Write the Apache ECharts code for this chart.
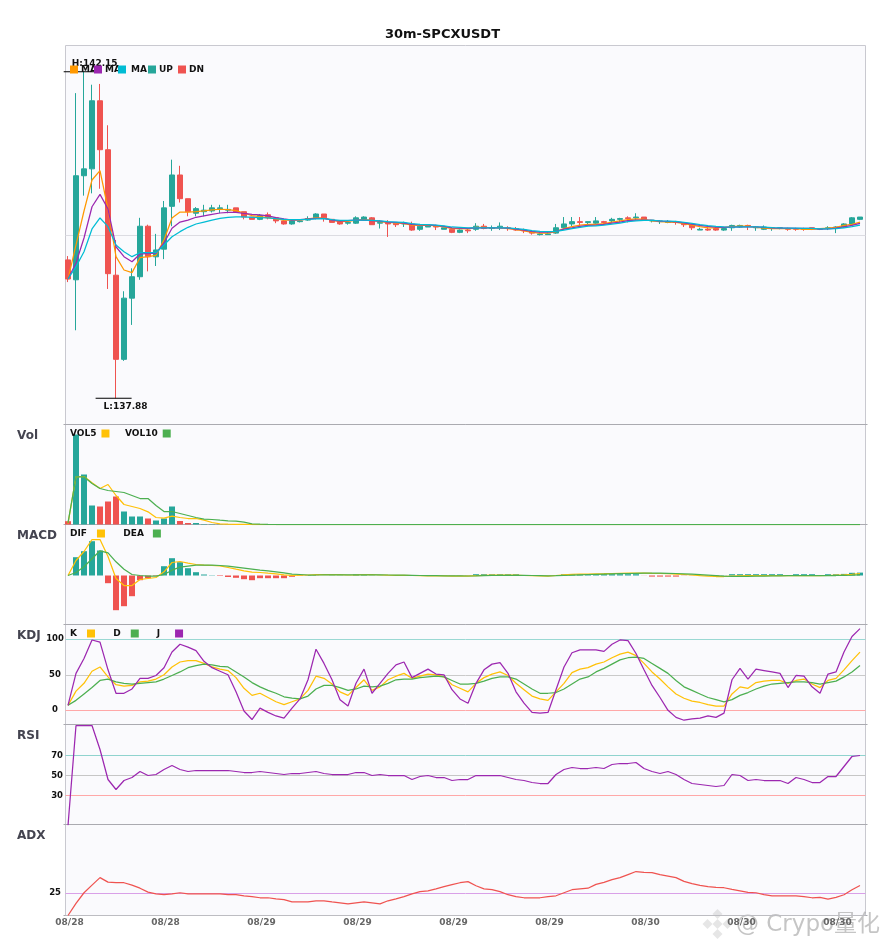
<!DOCTYPE html>
<html><head><meta charset="utf-8">
<style>html,body{margin:0;padding:0;background:#fff}#c{width:885px;height:950px}</style>
<script src="https://cdn.jsdelivr.net/npm/echarts@6/dist/echarts.min.js"></script>
</head><body><div id="c"></div>
<script>
const categories = [].concat(Array(24).fill('08/28'), Array(48).fill('08/29'), Array(28).fill('08/30'));
const opens = [
139.69,139.43,140.79,140.88,141.77,141.13,139.49,138.39,139.19,139.47,
140.13,139.73,139.83,140.39,140.80,140.49,140.30,140.32,140.33,140.36,
140.34,140.37,140.32,140.25,140.22,140.28,140.24,140.20,140.16,140.19,
140.21,140.24,140.29,140.22,140.20,140.17,140.17,140.21,140.24,140.17,
140.18,140.17,140.16,140.16,140.09,140.12,140.13,140.09,140.09,140.05,
140.08,140.09,140.13,140.10,140.11,140.11,140.10,140.08,140.06,140.02,
140.02,140.04,140.11,140.16,140.19,140.18,140.17,140.19,140.20,140.22,
140.24,140.24,140.25,140.20,140.19,140.18,140.19,140.17,140.15,140.08,
140.09,140.10,140.08,140.11,140.12,140.14,140.11,140.09,140.10,140.10,
140.10,140.10,140.10,140.11,140.09,140.10,140.10,140.12,140.16,140.22];
const closes = [
139.44,140.79,140.88,141.77,141.13,139.51,138.39,139.19,139.47,140.13,
139.73,139.82,140.37,140.80,140.49,140.32,140.36,140.34,140.37,140.37,
140.35,140.32,140.25,140.22,140.27,140.24,140.20,140.16,140.20,140.20,
140.23,140.29,140.24,140.18,140.16,140.18,140.24,140.25,140.15,140.18,
140.16,140.15,140.17,140.08,140.13,140.13,140.12,140.11,140.05,140.08,
140.07,140.13,140.10,140.11,140.13,140.10,140.08,140.07,140.04,140.03,
140.03,140.11,140.16,140.19,140.18,140.19,140.20,140.18,140.22,140.23,
140.23,140.25,140.21,140.21,140.20,140.19,140.18,140.15,140.11,140.09,
140.08,140.08,140.10,140.14,140.14,140.13,140.12,140.12,140.11,140.11,
140.09,140.09,140.09,140.10,140.10,140.11,140.12,140.16,140.24,140.25];
const lows = [
139.40,138.77,140.53,140.56,140.62,139.31,137.88,138.37,138.84,139.43,
139.54,139.61,139.70,140.13,140.44,140.26,140.26,140.26,140.31,140.30,
140.30,140.31,140.22,140.22,140.21,140.22,140.17,140.15,140.15,140.18,
140.20,140.22,140.19,140.18,140.15,140.15,140.16,140.20,140.15,140.10,
139.99,140.12,140.12,140.07,140.07,140.12,140.08,140.09,140.04,140.04,
140.04,140.07,140.09,140.07,140.08,140.07,140.07,140.04,140.02,140.01,
140.02,140.03,140.09,140.13,140.13,140.13,140.16,140.16,140.17,140.18,
140.18,140.21,140.20,140.18,140.16,140.17,140.15,140.12,140.08,140.08,
140.07,140.07,140.07,140.07,140.11,140.08,140.07,140.08,140.07,140.09,
140.07,140.07,140.07,140.08,140.08,140.08,140.04,140.11,140.16,140.21];
const highs = [
139.74,141.87,142.15,141.98,141.99,141.45,139.95,139.28,139.58,140.24,
140.15,140.03,140.46,141.00,140.92,140.49,140.38,140.41,140.41,140.41,
140.41,140.37,140.32,140.25,140.29,140.31,140.25,140.21,140.21,140.21,
140.26,140.30,140.29,140.22,140.20,140.21,140.26,140.26,140.25,140.21,
140.21,140.18,140.19,140.19,140.16,140.15,140.15,140.11,140.12,140.09,
140.10,140.17,140.16,140.14,140.18,140.13,140.12,140.10,140.07,140.05,
140.05,140.16,140.25,140.25,140.25,140.19,140.25,140.20,140.24,140.24,
140.26,140.30,140.25,140.21,140.21,140.21,140.20,140.18,140.17,140.11,
140.12,140.12,140.11,140.15,140.15,140.15,140.13,140.14,140.12,140.11,
140.11,140.11,140.11,140.11,140.10,140.13,140.13,140.17,140.25,140.25];
const maFast = [
139.44,139.885,140.329,140.734,140.856,140.355,139.732,139.558,139.523,139.719,
139.732,139.75,139.95,140.238,140.316,140.316,140.32,140.33,140.343,140.352,
140.346,140.333,140.303,140.268,140.255,140.242,140.225,140.211,140.21,140.21,
140.225,140.24,140.235,140.21,140.19,140.195,140.21,140.215,140.205,140.19,
140.18,140.175,140.165,140.145,140.14,140.145,140.135,140.12,140.10,140.10,
140.095,140.115,140.115,140.11,140.11,140.10,140.085,140.07,140.05,140.04,
140.04,140.06,140.10,140.125,140.145,140.155,140.155,140.165,140.185,140.20,
140.215,140.225,140.22,140.20,140.19,140.185,140.18,140.165,140.145,140.125,
140.11,140.11,140.115,140.125,140.13,140.13,140.115,140.105,140.10,140.10,
140.10,140.10,140.09,140.09,140.10,140.105,140.115,140.14,140.155,140.185];
const maMid = [
139.44,139.65,139.976,140.385,140.547,140.355,139.862,139.732,139.666,139.767,
139.776,139.776,139.911,140.103,140.185,140.211,140.247,140.264,140.286,140.303,
140.312,140.312,140.299,140.286,140.277,140.264,140.242,140.225,140.211,140.215,
140.224,140.233,140.233,140.211,140.198,140.202,140.211,140.211,140.202,140.198,
140.185,140.181,140.172,140.154,140.149,140.149,140.141,140.128,140.11,140.106,
140.102,140.11,140.11,140.11,140.11,140.106,140.093,140.08,140.063,140.054,
140.054,140.063,140.093,140.11,140.128,140.141,140.145,140.154,140.172,140.185,
140.202,140.211,140.211,140.207,140.198,140.194,140.188,140.175,140.158,140.141,
140.128,140.119,140.115,140.119,140.123,140.123,140.123,140.115,140.11,140.106,
140.106,140.102,140.102,140.102,140.093,140.097,140.106,140.123,140.141,140.167];
const maSlow = [
139.44,139.601,139.797,140.094,140.238,140.124,139.885,139.797,139.732,139.784,
139.784,139.784,139.885,139.993,140.059,140.116,140.159,140.185,140.211,140.233,
140.247,140.251,140.251,140.247,140.242,140.238,140.228,140.221,140.215,140.215,
140.22,140.225,140.23,140.215,140.205,140.205,140.21,140.21,140.205,140.20,
140.19,140.185,140.18,140.165,140.155,140.15,140.145,140.135,140.12,140.115,
140.11,140.11,140.11,140.11,140.11,140.108,140.10,140.09,140.072,140.062,
140.06,140.063,140.08,140.10,140.115,140.13,140.135,140.145,140.158,140.172,
140.19,140.20,140.205,140.205,140.20,140.198,140.192,140.182,140.168,140.152,
140.138,140.127,140.12,140.118,140.12,140.12,140.122,140.118,140.112,140.108,
140.106,140.104,140.102,140.102,140.096,140.094,140.098,140.11,140.125,140.145];
const volumes = [
3.3,90,50,19,18,23,28,13,8,8,
6,4,6,18,3.5,1.5,1.5,0.4,0.3,0.2,
0.2,0.2,0.2,0.2,0.2,0.1,0.1,0,0,0,
0,0,0,0,0,0,0,0,0,0,0,0,0,0,0,0,0,0,0,0,
0,0,0,0,0,0,0,0,0,0,0,0,0,0,0,0,0,0,0,0,
0,0,0,0,0,0,0,0,0,0,0,0,0,0,0,0,0,0,0,0,
0,0,0,0,0,0,0,0,0,0];
const vol5 = [
1,47.7,48,41.7,36,40,29,20,18,16,
12.7,7,6.3,8.3,7,6,6,4.3,2,0.7,
0.3,0.2,0.1,0,0,0,0,0,0,0,
0,0,0,0,0,0,0,0,0,0,0,0,0,0,0,0,0,0,0,0,
0,0,0,0,0,0,0,0,0,0,0,0,0,0,0,0,0,0,0,0,
0,0,0,0,0,0,0,0,0,0,0,0,0,0,0,0,0,0,0,0,
0,0,0,0,0,0,0,0,0,0];
const vol10 = [
1.7,47.7,47.7,41,36,34,33,32,29,26,
26,19,13,13,11,9,7,5.3,5,4.3,
3.7,3.3,2.3,0.7,0.3,0.1,0,0,0,0,
0,0,0,0,0,0,0,0,0,0,0,0,0,0,0,0,0,0,0,0,
0,0,0,0,0,0,0,0,0,0,0,0,0,0,0,0,0,0,0,0,
0,0,0,0,0,0,0,0,0,0,0,0,0,0,0,0,0,0,0,0,
0,0,0,0,0,0,0,0,0,0];
const macdHist = [
0,18.3,24.3,34.3,25,-7.7,-34.7,-30.7,-20.7,-4.7,
-2.7,-0.5,9.3,17.3,13.3,7.3,3.3,1,0.3,-0.5,
-1.5,-2.3,-3.7,-4.7,-2.7,-2.7,-2.7,-2.7,-1.3,-0.5,
-0.3,-0.2,0,0.2,0.2,0.1,1.2,1.2,0.2,0.1,
-0.1,-0.1,-0.1,-0.1,-0.2,-0.1,-0.1,-0.2,-0.2,-0.2,
-0.2,1.3,1.3,1.3,1.3,1.3,1.3,-0.1,-0.2,-0.2,
-0.2,0.2,1.3,1.3,1.3,1.3,1.3,1.3,1.3,1.3,
1.3,1.3,-0.1,-1.1,-1.1,-1.1,-1.1,-0.2,-0.2,-0.2,
-0.2,-1.1,0.2,1.3,1.3,1.3,1.3,1.3,1.3,1.3,
0.1,1.3,1.3,1.3,0.1,1.3,1.3,1.6,2.7,2.9];
const dif = [
0,15,24,36,36,19,-3,-10,-10,-4,
-3,-2,3.7,13,14,12.3,11,10.3,10,9.7,
8,6.3,4.7,3.3,3,2.3,1.7,0.7,0,0.3,
0.5,0.8,1,1,0.8,0.5,0.7,1,1,0.5,
0.3,0.2,0.2,0,-0.2,-0.3,-0.3,-0.4,-0.6,-0.7,
-0.7,-0.2,0.2,0.4,0.5,0.5,0.3,0,-0.2,-0.5,
-0.7,0,0.7,1.2,1.5,1.5,1.7,1.8,2,2.2,
2.4,2.5,2.3,2.1,2,1.8,1.4,1,0.5,-0.2,
-0.7,-1,-1,-0.6,-0.3,-0.2,-0.1,0,0,0,
-0.1,0,0,0,-0.1,0,0.3,0.6,1.2,2];
const dea = [
0,3,8.7,16.7,24.7,22.7,13.7,6.3,1,0,
-0.7,-0.7,1,5.3,8.3,9.3,10.3,10.3,10.3,10,
9.3,8.3,7.3,6.3,5.3,4.7,3.7,2.7,1.3,1,
0.5,0.5,0.6,0.7,0.7,0.6,0.6,0.7,0.7,0.7,
0.5,0.4,0.3,0.2,0,-0.1,-0.2,-0.3,-0.4,-0.4,
-0.5,-0.4,-0.2,0,0.1,0.2,0.2,0.1,0,-0.1,
-0.3,-0.2,0,0.4,0.7,1,1.2,1.4,1.6,1.8,
2,2.2,2.4,2.5,2.4,2.2,2,1.7,1.3,0.8,
0.3,-0.2,-0.7,-0.9,-0.9,-0.8,-0.7,-0.6,-0.4,-0.3,
-0.2,-0.1,-0.1,-0.1,-0.1,0,0,0.2,0.4,0.7];
const kLine = [
7,27,38,55,61,47,36,34,35,40,
41,44,50,61,68,70,70,66,61,58,
56,46,31,21,24,18,12,8,12,16,
28,48,45,37,26,21,32,43,28,33,
43,48,52,45,48,51,50,47,36,31,
26,38,46,51,54,49,38,29,20,16,
14,26,38,53,58,60,65,68,74,79,
82,77,66,54,44,33,23,17,13,11,
8,6,6,23,33,31,39,41,42,42,
38,42,44,37,32,42,45,57,70,82];
const dLine = [
7,14,23,32,42,44,40,38,37,38,
39,40,44,49,54,60,63,65,64,62,
61,54,47,39,33,28,24,19,17,16,
20,30,35,35,32,28,30,34,33,34,
38,43,44,44,46,47,48,47,42,37,
37,38,41,45,47,47,44,37,30,24,
24,25,30,37,44,47,54,59,65,71,
74,75,73,66,59,52,42,33,28,23,
18,15,12,15,21,25,30,34,37,38,
39,40,40,39,37,39,41,47,54,63];
const jLine = [
7,52,73,99,96,57,24,24,30,45,
45,49,60,82,93,89,84,69,60,55,
50,26,-1,-13,3,-3,-8,-11,3,16,
43,86,66,43,15,6,38,58,24,38,
52,64,68,46,52,58,51,50,29,16,
10,38,57,65,67,52,26,10,-3,-4,
-3,29,61,81,85,85,85,83,93,99,
98,80,57,35,18,0,-10,-14,-12,-11,
-8,-10,-4,43,59,44,58,56,54,52,
32,49,48,33,24,51,54,82,104,115];
const rsiLine = [
0,100,100,100,76,46,36,45,48,54,
50,51,56,60,56,54,55,55,55,55,
55,54,53,53,54,53,52,51,52,52,
53,54,52,51,51,51,53,53,50,51,
50,50,50,46,49,50,48,48,45,46,
46,50,50,50,50,48,46,45,43,42,
42,51,56,58,57,57,58,57,61,62,
62,63,57,54,52,54,51,46,42,41,
40,39,40,51,50,45,46,45,45,45,
42,48,46,43,43,49,49,59,69,70];
const adxLine = [
10,18,25,30,35,32,31.6,31.6,30,28,
25.4,24.3,23.7,24.3,25,24.3,24.3,24.3,24.3,24.3,
23.7,23.7,23,22.4,21.7,21.7,21,20.4,19,19,
19,19.7,19.7,19,18.4,17.7,18.4,19,18.4,17.7,
19.7,21,22.4,24.3,25.7,26.3,27.6,29,30.3,31.6,
32.3,29.6,27.6,27,25.7,23.7,22.4,21.7,21.7,21.7,
22.4,23,25,27,27.6,28,30.5,31.8,33.6,35,
37,39,38.4,38.2,37,36,35,32.5,31,29.8,
29,28.5,28.3,27.2,26.3,25.2,25,23.7,23,23,
23,23,22.4,21.7,22,20.8,22,23.7,27,29.8];
const kdjLevels = [100, 50, 0];
const rsiLevels = [70, 50, 30];
const adxLevels = [25];
const priceLevels = [140.01];
const highLabel = 'H:142.15';
const lowLabel = 'L:137.88';

const TEAL='#26a69a', RED='#ef5350', FONT='"DejaVu Sans",sans-serif';
const panels = [
 {top:45.5,h:379,min:137.5383,max:142.4925,label:null,levels:priceLevels,colors:['#dcdce2'],show:false},
 {top:424.5,h:100,min:0,max:100,label:'Vol',levels:[],colors:[]},
 {top:524.5,h:100,min:-49,max:51,label:'MACD',levels:[],colors:[]},
 {top:624.5,h:100,min:-20,max:120.8,label:'KDJ',levels:kdjLevels,colors:['#9ad8d3','#cacaca','#ffa8a8'],align:'center',margin:10.5},
 {top:724.5,h:100,min:1,max:101,label:'RSI',levels:rsiLevels,colors:['#8fd3ce','#c6c6c6','#ffa8a8'],align:'right',margin:2.5},
 {top:824.5,h:91,min:10,max:70,label:'ADX',levels:adxLevels,colors:['#d9a0e8'],align:'right',margin:4.5}
];
const grids=[],xAxes=[],yAxes=[],series=[],titles=[];
const N=panels.length;
panels.forEach((p,i)=>{
  grids.push({show:true,left:65.5,width:800,top:p.top,height:p.h,backgroundColor:'#fafafd',borderColor:'#c9c9d0',borderWidth:1});
  xAxes.push({type:'value',gridIndex:i,min:0,max:1,position:'bottom',axisLabel:{show:false},axisTick:{show:false},splitLine:{show:false},
    axisLine:{show:true,onZero:false,lineStyle:{color:i==5?'#bdbdc2':'#aaaab0',width:1}}});
  yAxes.push({type:'value',gridIndex:i,min:p.min,max:p.max,position:'left',splitLine:{show:false},axisLine:{show:false},
    axisTick:{show:true,length:2,customValues:[p.min],lineStyle:{color:'#aaaab0'}},
    axisLabel:p.align?{show:true,customValues:p.levels,align:p.align,margin:p.margin,fontSize:8.5,fontWeight:'bold',color:'#111',fontFamily:FONT}:{show:false}});
  if(p.levels.length) series.push({type:'line',xAxisIndex:i,yAxisIndex:i,data:[],silent:true,z:1,
    markLine:{silent:true,symbol:'none',animation:false,z:1,label:{show:false},
      data:p.levels.map((v,k)=>({yAxis:v,lineStyle:{color:p.colors[k],width:1,type:'solid'}}))}});
  if(p.label) titles.push({text:p.label,left:17,top:p.top+5.5,padding:0,textStyle:{fontSize:12,fontWeight:'bold',color:'#444450',fontFamily:FONT}});
});
panels.forEach((p,i)=>{
  yAxes.push({type:'value',gridIndex:i,min:p.min,max:p.max,position:'right',splitLine:{show:false},axisLine:{show:false},axisLabel:{show:false},
    axisTick:{show:true,length:2,customValues:[p.min],lineStyle:{color:'#aaaab0'}}});
});
panels.forEach((p,i)=>{
  grids.push({show:false,left:64,width:800,top:p.top,height:p.h});
  xAxes.push({type:'category',gridIndex:N+i,data:categories,boundaryGap:true,axisTick:{show:false},axisLine:{show:false},splitLine:{show:false},
    axisLabel:i==5?{show:true,interval:11,margin:3,padding:[0,0,0,3],fontSize:9,fontWeight:'bold',color:'#666',fontFamily:FONT}:{show:false}});
  yAxes.push({type:'value',gridIndex:N+i,min:p.min,max:p.max,show:false,scale:true});
});
const dx=i=>N+i, dy=i=>2*N+i;
function line(name,data,i,color,z){
  series.push({type:'line',name,data,xAxisIndex:dx(i),yAxisIndex:dy(i),symbol:'none',z:z||3,
    lineStyle:{color,width:1.25},itemStyle:{color},emphasis:{disabled:true}});
}
series.push({type:'candlestick',name:'Candles',xAxisIndex:dx(0),yAxisIndex:dy(0),barWidth:5,z:2,
  data:opens.map((o,i)=>[o,closes[i],lows[i],highs[i]]),
  itemStyle:{color:TEAL,color0:RED,borderColor:TEAL,borderColor0:RED,borderWidth:1},
  markPoint:{silent:true,animation:false,data:[
    {coord:[2,highs[2]],symbol:'rect',symbolSize:[38,1],symbolOffset:[-1.3,0],itemStyle:{color:'#000'},label:{show:false}},
    {coord:[6,lows[6]],symbol:'rect',symbolSize:[36,1],symbolOffset:[-2.4,0],itemStyle:{color:'#000'},label:{show:false}},
    {coord:[2,highs[2]],symbol:'circle',symbolSize:0,itemStyle:{color:'transparent'},
      label:{show:true,formatter:highLabel,position:'inside',offset:[10.7,-7.7],fontSize:9,fontWeight:'bold',color:'#111',fontFamily:FONT}},
    {coord:[6,lows[6]],symbol:'circle',symbolSize:0,itemStyle:{color:'transparent'},
      label:{show:true,formatter:lowLabel,position:'inside',offset:[9.6,8.4],fontSize:9,fontWeight:'bold',color:'#111',fontFamily:FONT}}
  ]}});
line('MA',maFast,0,'#ff9800');
line('MA ',maMid,0,'#9c27b0');
line('MA  ',maSlow,0,'#00bcd4');
['UP','DN'].forEach((n,k)=>series.push({type:'bar',name:n,data:[],xAxisIndex:dx(0),yAxisIndex:dy(0),itemStyle:{color:k?RED:TEAL}}));
series.push({type:'bar',name:'Volume',xAxisIndex:dx(1),yAxisIndex:dy(1),barWidth:6,data:volumes,
  itemStyle:{color:p=>closes[p.dataIndex]>=opens[p.dataIndex]?TEAL:RED}});
line('VOL5',vol5,1,'#ffc107');
line('VOL10',vol10,1,'#4caf50');
series.push({type:'bar',name:'MACD',xAxisIndex:dx(2),yAxisIndex:dy(2),barWidth:6,data:macdHist,
  itemStyle:{color:p=>p.value>=0?TEAL:RED}});
line('DIF',dif,2,'#ffc107');
line('DEA',dea,2,'#4caf50');
line('K',kLine,3,'#ffc107');
line('D',dLine,3,'#4caf50');
line('J',jLine,3,'#9c27b0');
line('RSI',rsiLine,4,'#9c27b0');
line('ADX',adxLine,5,'#ef5350');

const lg=(name,left,top,align,gap)=>({show:true,data:[name],left,top,padding:0,itemGap:0,itemWidth:8,itemHeight:8,icon:'rect',align,
  selectedMode:false,inactiveColor:'#000',
  textStyle:{fontSize:9,fontWeight:'bold',color:'#111',fontFamily:FONT,padding:align=='right'?[0,gap,0,0]:[0,0,0,gap]},z:9});
const legends=[
 lg('MA',70,65,'left',-2),lg('MA ',94,65,'left',-2),lg('MA  ',118,65,'left',0),lg('UP',148,65,'left',-2),lg('DN',178,65,'left',-2),
 lg('VOL5',70,429,'right',0),lg('VOL10',125,429,'right',0),
 lg('DIF',70,529,'right',5),lg('DEA',123.3,529,'right',4),
 lg('K',70,629,'right',5),lg('D',113.3,629,'right',5),lg('J',156.7,629,'right',10)
];
titles.unshift({text:'30m-SPCXUSDT',left:'center',top:28,padding:0,textStyle:{fontSize:13,fontWeight:'bold',color:'#111',fontFamily:FONT}});

const chart=echarts.init(document.getElementById('c'),null,{renderer:'canvas'});
chart.setOption({animation:false,backgroundColor:'#fff',title:titles,legend:legends,grid:grids,xAxis:xAxes,yAxis:yAxes,series,
 graphic:[{type:'group',z:100,silent:true,children:[
  {type:'text',left:736,top:914,style:{text:'@ Crypo量化',fill:'rgba(150,150,150,0.55)',font:'23px "DejaVu Sans","Noto Sans CJK SC",sans-serif'}},
  {type:'rect',x:717.5,y:924,rotation:Math.PI/4,shape:{x:-3.5,y:-3.5,width:7,height:7},style:{fill:'rgba(200,200,200,0.45)'}},
  {type:'rect',x:717.5,y:914,rotation:Math.PI/4,shape:{x:-3.5,y:-3.5,width:7,height:7},style:{fill:'rgba(200,200,200,0.45)'}},
  {type:'rect',x:717.5,y:934,rotation:Math.PI/4,shape:{x:-3.5,y:-3.5,width:7,height:7},style:{fill:'rgba(200,200,200,0.45)'}},
  {type:'rect',x:707.5,y:924,rotation:Math.PI/4,shape:{x:-3.5,y:-3.5,width:7,height:7},style:{fill:'rgba(200,200,200,0.45)'}},
  {type:'rect',x:727.5,y:924,rotation:Math.PI/4,shape:{x:-3.5,y:-3.5,width:7,height:7},style:{fill:'rgba(200,200,200,0.45)'}}
 ]}]
});
</script></body></html>
